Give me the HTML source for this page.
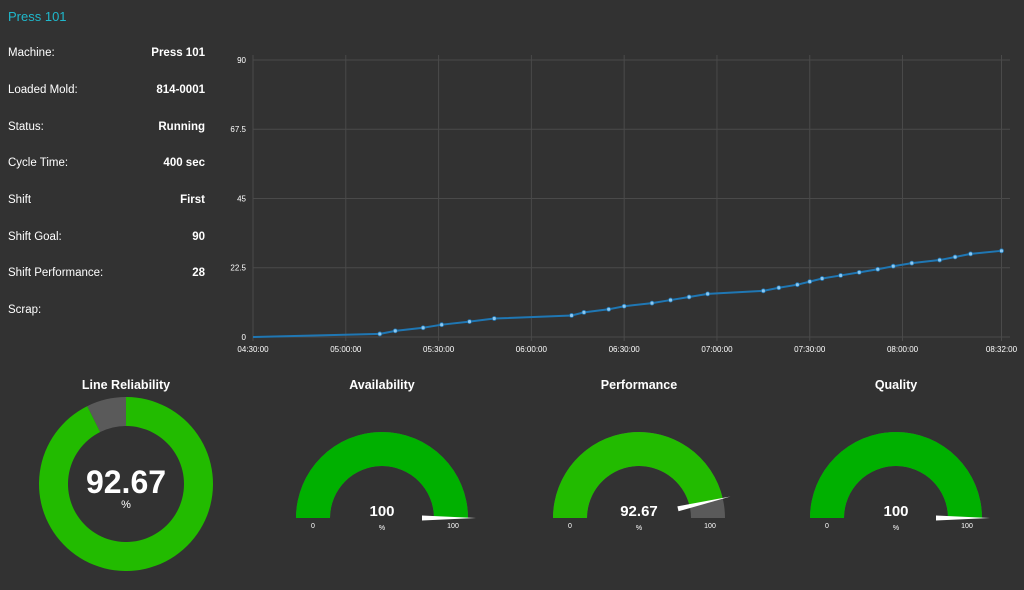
<!DOCTYPE html>
<html><head><meta charset="utf-8"><style>
body{margin:0;width:1024px;height:590px;background:#323232;font-family:"Liberation Sans",sans-serif;color:#fff;overflow:hidden;position:relative}
.t{position:absolute;left:8px;top:9px;font-size:13px;color:#1fb8cc}
.row{position:absolute;left:8px;width:197px;font-size:11.5px}
.row b{position:absolute;right:0;top:0}
svg{position:absolute;left:0;top:0}
</style></head><body>
<div class="t">Press 101</div>
<div class="row" style="top:47px">Machine:<b>Press 101</b></div>
<div class="row" style="top:84px">Loaded Mold:<b>814-0001</b></div>
<div class="row" style="top:121px">Status:<b>Running</b></div>
<div class="row" style="top:157px">Cycle Time:<b>400 sec</b></div>
<div class="row" style="top:194px">Shift<b>First</b></div>
<div class="row" style="top:231px">Shift Goal:<b>90</b></div>
<div class="row" style="top:267px">Shift Performance:<b>28</b></div>
<div class="row" style="top:304px">Scrap:<b></b></div>
<svg id="s" width="1024" height="590"></svg>
<script>
const times=[0,41,46,55,61,70,78,103,107,115,120,129,135,141,147,165,170,176,180,184,190,196,202,207,213,222,227,232,242];
const values=[0,1,2,3,4,5,6,7,8,9,10,11,12,13,14,15,16,17,18,19,20,21,22,23,24,25,26,27,28];
const yTicks=[0,22.5,45,67.5,90];
const yTickLabels=["0","22.5","45","67.5","90"];
const xTicks=[0,30,60,90,120,150,180,210,242];
const xTickLabels=["04:30:00","05:00:00","05:30:00","06:00:00","06:30:00","07:00:00","07:30:00","08:00:00","08:32:00"];
const gaugeTitles=["Availability","Performance","Quality"];
const gaugeValues=[100,92.67,100];
const gaugeLabels=["100","92.67","100"];
const reliability=92.67;
const S=document.getElementById('s'),NS='http://www.w3.org/2000/svg';
function mk(t,a,p){const e=document.createElementNS(NS,t);for(const k in a)e.setAttribute(k,a[k]);(p||S).appendChild(e);return e}
const X=m=>253+m*3.093, Y=v=>337-v*3.078;
for(let i=0;i<yTicks.length;i++){
 const g=mk('line',{x1:253,x2:1010,y1:Y(yTicks[i]),y2:Y(yTicks[i]),stroke:'#4a4a4a'});
 
 
 const t=mk('text',{x:246,y:Y(yTicks[i])+3,'text-anchor':'end','font-size':8,fill:'#fff'});t.textContent=yTickLabels[i];
 
 
}
for(let i=0;i<xTicks.length;i++){
 const g=mk('line',{x1:X(xTicks[i]),x2:X(xTicks[i]),y1:55,y2:341,stroke:'#4a4a4a'});
 
 
 const t=mk('text',{x:X(xTicks[i]),y:352,'text-anchor':'middle','font-size':8,fill:'#fff'});t.textContent=xTickLabels[i];
 
 
}
const ln=mk('polyline',{points:times.map((m,i)=>X(m)+','+Y(values[i])).join(' '),fill:'none',stroke:'#1f77b4','stroke-width':2});


for(let i=1;i<times.length;i++){
 const c=mk('circle',{cx:X(times[i]),cy:Y(values[i]),r:2,fill:'#8ec8f0',stroke:'#1f77b4','stroke-width':0.8});
 
 
}
// donut
function arc(cx,cy,R,r,a0,a1){ // angles in deg, 0=top clockwise
 const p=(rad,a)=>[cx+rad*Math.sin(a*Math.PI/180),cy-rad*Math.cos(a*Math.PI/180)];
 const l=(a1-a0)>180?1:0;const[a,b]=p(R,a0),[c,d]=p(R,a1),[e,f]=p(r,a1),[g,h]=p(r,a0);
 return `M${a},${b}A${R},${R} 0 ${l} 1 ${c},${d}L${e},${f}A${r},${r} 0 ${l} 0 ${g},${h}Z`;}
let t=mk('text',{x:126,y:389,'text-anchor':'middle','font-size':12.5,'font-weight':'bold',fill:'#fff'});t.textContent='Line Reliability';

const dv=reliability/100*360;
let d1=mk('path',{d:arc(126,484,87,58,0,dv-0.01),fill:'#22bb00'});

let d2=mk('path',{d:arc(126,484,87,58,dv,359.99),fill:'#5a5a5a'});

t=mk('text',{x:126,y:493,'text-anchor':'middle','font-size':32,'font-weight':'bold',fill:'#fff'});t.textContent=String(reliability);

t=mk('text',{x:126,y:508,'text-anchor':'middle','font-size':11,fill:'#fff'});t.textContent='%';

// gauges: angle -90 (left) to 90 (right)
const cxs=[382,639,896];
for(let i=0;i<3;i++){
 const cx=cxs[i],cy=518,a=-90+gaugeValues[i]/100*180;
 let tt=mk('text',{x:cx,y:389,'text-anchor':'middle','font-size':12.5,'font-weight':'bold',fill:'#fff'});tt.textContent=gaugeTitles[i];
 
 let bg=mk('path',{d:arc(cx,cy,86,52,-90,90),fill:'#5a5a5a'});
 
 let fg=mk('path',{d:arc(cx,cy,86,52,-90,a),fill:i==1?'#22bb00':'#00b000'});
 
 const rr=a*Math.PI/180,ux=Math.sin(rr),uy=-Math.cos(rr),px=-uy,py=ux;
 const r0=40,r1=94;
 let nd=mk('polygon',{points:`${cx+ux*r0+px*2.5},${cy+uy*r0+py*2.5} ${cx+ux*r0-px*2.5},${cy+uy*r0-py*2.5} ${cx+ux*r1},${cy+uy*r1}`,fill:'#fff'});
 
 tt=mk('text',{x:cx,y:516,'text-anchor':'middle','font-size':15,'font-weight':'bold',fill:'#fff'});tt.textContent=gaugeLabels[i];
 
 tt=mk('text',{x:cx,y:530,'text-anchor':'middle','font-size':7,fill:'#fff'});tt.textContent='%';
 
 tt=mk('text',{x:cx-69,y:528,'text-anchor':'middle','font-size':7,fill:'#fff'});tt.textContent='0';
 
 tt=mk('text',{x:cx+71,y:528,'text-anchor':'middle','font-size':7,fill:'#fff'});tt.textContent='100';
 
}
</script>
</body></html>
